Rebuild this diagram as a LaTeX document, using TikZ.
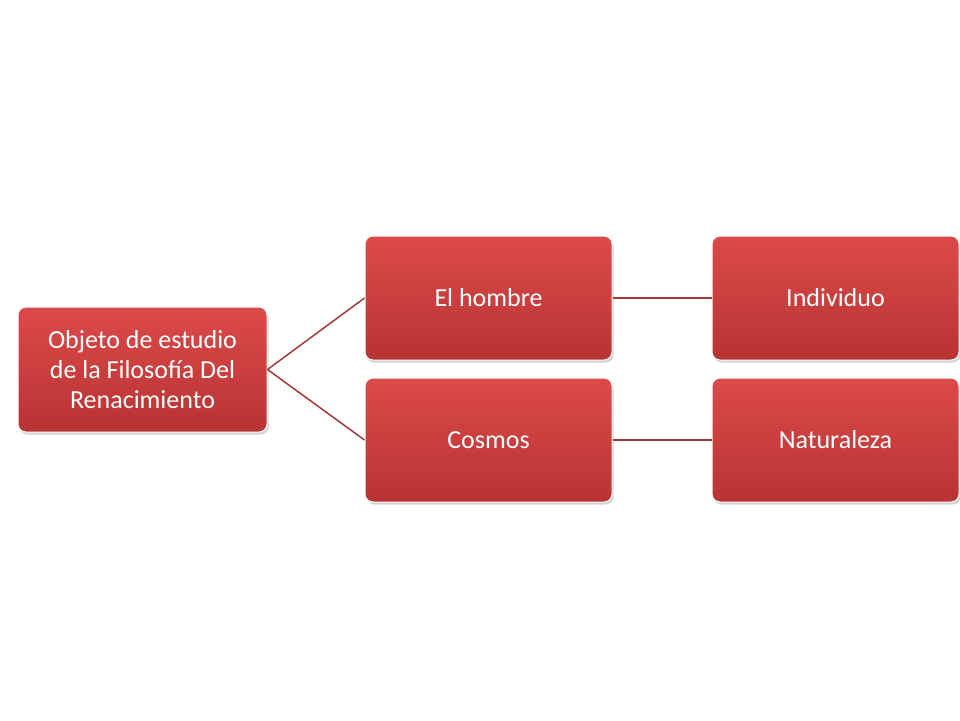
\documentclass[tikz,border=0pt]{standalone}
\usepackage{fontspec}
\setmainfont{Carlito}
\usetikzlibrary{shadows}
\definecolor{boxtop}{HTML}{DC4A4A}
\definecolor{boxbot}{HTML}{B83333}
\definecolor{linec}{HTML}{A33A3A}
\begin{document}
\begin{tikzpicture}[x=1pt,y=-1pt,
  box/.style={rectangle,rounded corners=8pt,draw=white,line width=1pt,
    top color=boxtop,bottom color=boxbot,text=white,align=center,
    font=\fontsize{26}{30}\selectfont,inner sep=2pt,
    drop shadow={shadow xshift=1.5pt,shadow yshift=-2.5pt,opacity=0.35}},
  conn/.style={draw=linec,line width=1.5pt}]
\useasboundingbox (0,0) rectangle (960,720);
\fill[white] (0,0) rectangle (960,720);
\node[box,minimum width=249pt,minimum height=125pt] (root) at (142.5,369.5)
  {Objeto de estudio\\de la Filosofía Del\\Renacimiento};
\node[box,minimum width=247pt,minimum height=124pt] (hom) at (488.5,298) {El hombre};
\node[box,minimum width=247pt,minimum height=124pt] (ind) at (835.5,298) {Individuo};
\node[box,minimum width=247pt,minimum height=124pt] (cos) at (488.5,440) {Cosmos};
\node[box,minimum width=247pt,minimum height=124pt] (nat) at (835.5,440) {Naturaleza};
\draw[conn] (root.east) -- (hom.west);
\draw[conn] (root.east) -- (cos.west);
\draw[conn] (hom.east) -- (ind.west);
\draw[conn] (cos.east) -- (nat.west);
\end{tikzpicture}
\end{document}
